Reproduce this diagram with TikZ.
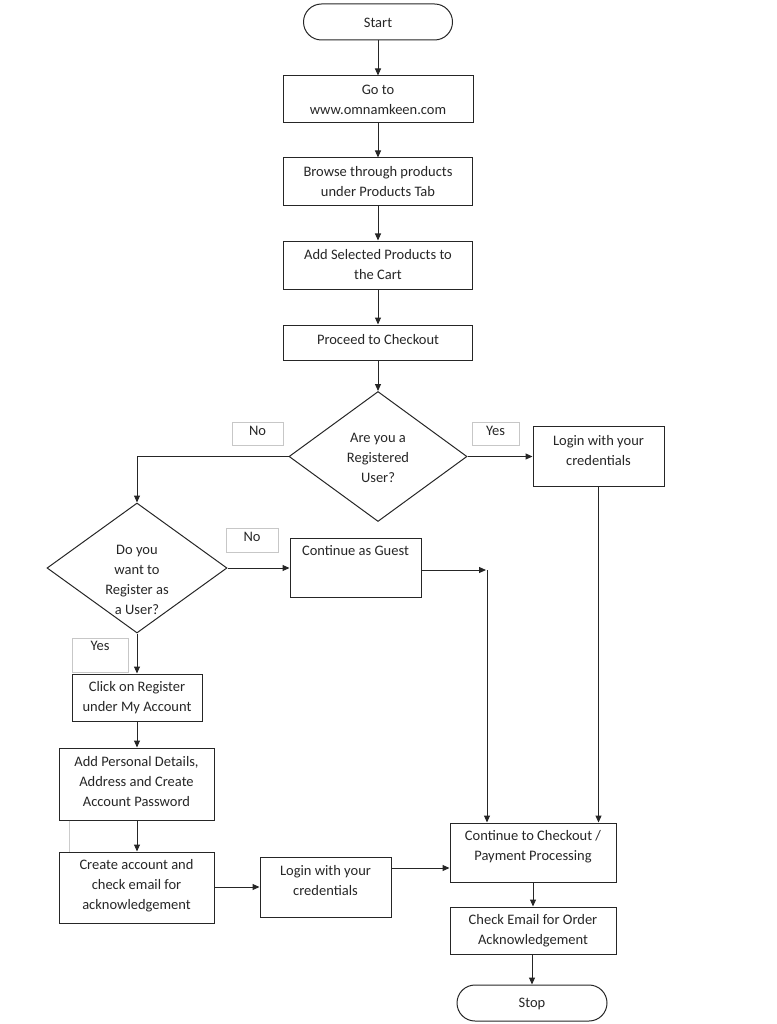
\documentclass[tikz,border=0pt]{standalone}
\usepackage{fontspec}
\setmainfont{Carlito}
\usetikzlibrary{arrows.meta,shapes.geometric,shapes.misc}
\begin{document}
\begin{tikzpicture}[x=1pt,y=-1pt,
  base/.style={font=\fontsize{14.5}{20}\selectfont, text=black!85},
  tx/.style={base, align=center, inner sep=0},
  box/.style={draw=black!85, line width=1, inner sep=0, tx},
  term/.style={rounded rectangle, draw=black!85, line width=1, inner sep=0, tx},
  dia/.style={diamond, draw=black!85, line width=1, inner sep=0},
  lbox/.style={draw=black!22, line width=0.8, inner sep=0},
  arr/.style={-{Triangle[length=7,width=6]}, line width=1, draw=black!85},
  ln/.style={line width=1, draw=black!85}]
\useasboundingbox (0,0) rectangle (776,1024);

% main column
\node[term, minimum width=149, minimum height=36, label={[tx,yshift=-1]center:Start}] (start) at (378,22) {};
\node[box, minimum width=190, minimum height=47] (go) at (378,99.5) {Go to\\www.omnamkeen.com};
\node[box, minimum width=189, minimum height=48] (browse) at (378,182) {Browse through products\\under Products Tab};
\node[box, minimum width=189, minimum height=48] (addsel) at (378,265) {Add Selected Products to\\the Cart};
\node[box, minimum width=189, minimum height=35, label={[tx,yshift=3]center:Proceed to Checkout}] (proceed) at (378,342.5) {};
\node[dia, minimum width=178, minimum height=130, label={[tx,yshift=-1]center:{Are you a\\Registered\\User?}}] (d1) at (378,456.5) {};

% right branch
\node[box, minimum width=131, minimum height=60, label={[tx,yshift=6]center:{Login with your\\credentials}}] (loginR) at (598.5,456.5) {};
\node[lbox, minimum width=51, minimum height=23, label={[tx,yshift=2.5]center:No}] (noA) at (257.5,433.5) {};
\node[lbox, minimum width=47, minimum height=23, label={[tx,yshift=2.5]center:Yes}] (yesA) at (495.5,433.5) {};

% second decision
\node[dia, minimum width=180, minimum height=130, label={[tx,yshift=-12]center:{Do you\\want to\\Register as\\a User?}}] (d2) at (137,568) {};
\node[lbox, minimum width=52, minimum height=24, label={[tx,yshift=3]center:No}] (noB) at (252,540) {};
\node[box, minimum width=131, minimum height=59, label={[tx,yshift=16.5]center:Continue as Guest}] (guest) at (355.5,567.5) {};
\coordinate (j1) at (487,570);
\node[lbox, minimum width=56, minimum height=34, label={[tx,yshift=9]center:Yes}] (yesB) at (100,655) {};

% left column
\node[box, minimum width=130, minimum height=47] (click) at (137,697.5) {Click on Register\\under My Account};
\node[box, minimum width=155, minimum height=72, label={[tx,yshift=2]center:{Add Personal Details,\\Address and Create\\Account Password}}] (addp) at (136.5,784) {};
\node[box, minimum width=155, minimum height=71, label={[tx,yshift=1.5]center:{Create account and\\check email for\\acknowledgement}}] (create) at (136.5,887.5) {};
\node[box, minimum width=131, minimum height=60, label={[tx,yshift=6]center:{Login with your\\credentials}}] (login2) at (325.5,887) {};

% final column
\node[box, minimum width=166, minimum height=59, label={[tx,yshift=5.5]center:{Continue to Checkout /\\Payment Processing}}] (chk) at (533,852.5) {};
\node[box, minimum width=166, minimum height=47] (email) at (533,930.5) {Check Email for Order\\Acknowledgement};
\node[term, minimum width=150, minimum height=36, label={[tx,yshift=-1]center:Stop}] (stop) at (532,1003) {};

% connectors
\draw[arr] (start) -- (go);
\draw[arr] (go) -- (browse);
\draw[arr] (browse) -- (addsel);
\draw[arr] (addsel) -- (proceed);
\draw[arr] (proceed) -- (d1.north);
\draw[arr] (d1.east) -- (loginR.west);
\draw[arr] (d1.west) -| (d2.north);
\draw[arr] (d2.east) -- (d2.east -| guest.west);
\draw[arr] (guest.east |- j1) -- ([xshift=-1]j1);
\draw[arr] (j1) -- (j1 |- chk.north);
\draw[arr] (loginR.south) -- (loginR.south |- chk.north);
\draw[arr] (d2.south) -- (click.north);
\draw[arr] (click.south) -- (click.south |- addp.north);
\draw[arr] (addp.south -| click.south) -- (create.north -| click.south);
\draw[black!20, line width=0.6] (addp.south -| 69,0) -- (create.north -| 69,0);
\draw[arr] (create.east |- login2.west) -- (login2.west);
\draw[arr] (login2.east |- 0,868) -- (chk.west |- 0,868);
\draw[arr] (chk.south) -- (email.north);
\draw[arr] (email.south -| stop.north) -- (stop.north);
\end{tikzpicture}
\end{document}
